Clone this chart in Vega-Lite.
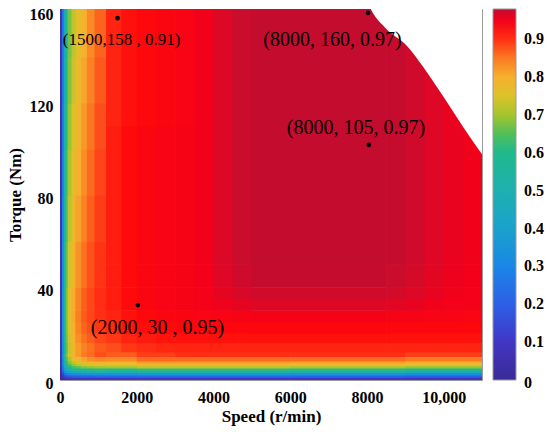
{
"$schema": "https://vega.github.io/schema/vega-lite/v6.json",
"width": 422, "height": 371,
"autosize": "none",
"padding": {"left": 60, "top": 9, "right": 68, "bottom": 52},
"background": "white",
"config": {
  "view": {"stroke": "#9a9a9a", "strokeWidth": 1},
  "axis": {"labelFont": "Liberation Serif", "labelFontWeight": "bold", "labelFontSize": 16, "labelColor": "black", "titleFont": "Liberation Serif", "titleFontWeight": "bold", "titleFontSize": 17, "titleColor": "black", "ticks": false, "domain": false, "grid": false}
},
"datasets": {
"grid": [
{"a":0,"b":50,"c":0,"d":1,"v":0.01},{"a":50,"b":100,"c":0,"d":1,"v":0.04},{"a":100,"b":150,"c":0,"d":1,"v":0.06},{"a":150,"b":200,"c":0,"d":1,"v":0.07},{"a":200,"b":300,"c":0,"d":1,"v":0.08},{"a":300,"b":400,"c":0,"d":1,"v":0.09},{"a":400,"b":550,"c":0,"d":1,"v":0.09},{"a":550,"b":700,"c":0,"d":1,"v":0.09},{"a":700,"b":900,"c":0,"d":1,"v":0.1},{"a":900,"b":1200,"c":0,"d":1,"v":0.1},
{"a":0,"b":50,"c":1,"d":2,"v":0.02},{"a":50,"b":100,"c":1,"d":2,"v":0.08},{"a":100,"b":150,"c":1,"d":2,"v":0.14},{"a":150,"b":200,"c":1,"d":2,"v":0.16},{"a":200,"b":300,"c":1,"d":2,"v":0.18},{"a":300,"b":400,"c":1,"d":2,"v":0.19},{"a":400,"b":550,"c":1,"d":2,"v":0.2},{"a":550,"b":700,"c":1,"d":2,"v":0.21},{"a":700,"b":900,"c":1,"d":2,"v":0.21},{"a":900,"b":1200,"c":1,"d":2,"v":0.22},
{"a":0,"b":50,"c":2,"d":3,"v":0.03},{"a":50,"b":100,"c":2,"d":3,"v":0.13},{"a":100,"b":150,"c":2,"d":3,"v":0.22},{"a":150,"b":200,"c":2,"d":3,"v":0.27},{"a":200,"b":300,"c":2,"d":3,"v":0.3},{"a":300,"b":400,"c":2,"d":3,"v":0.32},{"a":400,"b":550,"c":2,"d":3,"v":0.33},{"a":550,"b":700,"c":2,"d":3,"v":0.34},{"a":700,"b":900,"c":2,"d":3,"v":0.35},{"a":900,"b":1200,"c":2,"d":3,"v":0.35},
{"a":0,"b":50,"c":3,"d":4,"v":0.04},{"a":50,"b":100,"c":3,"d":4,"v":0.19},{"a":100,"b":150,"c":3,"d":4,"v":0.31},{"a":150,"b":200,"c":3,"d":4,"v":0.37},{"a":200,"b":300,"c":3,"d":4,"v":0.41},{"a":300,"b":400,"c":3,"d":4,"v":0.44},{"a":400,"b":550,"c":3,"d":4,"v":0.46},{"a":550,"b":700,"c":3,"d":4,"v":0.47},{"a":700,"b":900,"c":3,"d":4,"v":0.48},{"a":900,"b":1200,"c":3,"d":4,"v":0.49},
{"a":0,"b":50,"c":4,"d":5,"v":0.05},{"a":50,"b":100,"c":4,"d":5,"v":0.23},{"a":100,"b":150,"c":4,"d":5,"v":0.38},{"a":150,"b":200,"c":4,"d":5,"v":0.46},{"a":200,"b":300,"c":4,"d":5,"v":0.51},{"a":300,"b":400,"c":4,"d":5,"v":0.55},{"a":400,"b":550,"c":4,"d":5,"v":0.57},{"a":550,"b":700,"c":4,"d":5,"v":0.59},{"a":700,"b":900,"c":4,"d":5,"v":0.6},{"a":900,"b":1200,"c":4,"d":5,"v":0.61},
{"a":0,"b":50,"c":5,"d":6,"v":0.06},{"a":50,"b":100,"c":5,"d":6,"v":0.27},{"a":100,"b":150,"c":5,"d":6,"v":0.44},{"a":150,"b":200,"c":5,"d":6,"v":0.54},{"a":200,"b":300,"c":5,"d":6,"v":0.6},{"a":300,"b":400,"c":5,"d":6,"v":0.64},{"a":400,"b":550,"c":5,"d":6,"v":0.66},{"a":550,"b":700,"c":5,"d":6,"v":0.68},{"a":700,"b":900,"c":5,"d":6,"v":0.69},{"a":900,"b":1200,"c":5,"d":6,"v":0.7},
{"a":0,"b":50,"c":6,"d":7,"v":0.07},{"a":50,"b":100,"c":6,"d":7,"v":0.29},{"a":100,"b":150,"c":6,"d":7,"v":0.48},{"a":150,"b":200,"c":6,"d":7,"v":0.58},{"a":200,"b":300,"c":6,"d":7,"v":0.65},{"a":300,"b":400,"c":6,"d":7,"v":0.69},{"a":400,"b":550,"c":6,"d":7,"v":0.72},{"a":550,"b":700,"c":6,"d":7,"v":0.74},{"a":700,"b":900,"c":6,"d":7,"v":0.75},{"a":900,"b":1200,"c":6,"d":7,"v":0.76},
{"a":0,"b":50,"c":7,"d":8,"v":0.07},{"a":50,"b":100,"c":7,"d":8,"v":0.31},{"a":100,"b":150,"c":7,"d":8,"v":0.51},{"a":150,"b":200,"c":7,"d":8,"v":0.61},{"a":200,"b":300,"c":7,"d":8,"v":0.68},{"a":300,"b":400,"c":7,"d":8,"v":0.72},{"a":400,"b":550,"c":7,"d":8,"v":0.75},{"a":550,"b":700,"c":7,"d":8,"v":0.78},{"a":700,"b":900,"c":7,"d":8,"v":0.79},{"a":900,"b":1200,"c":7,"d":8,"v":0.8},
{"a":0,"b":50,"c":8,"d":10,"v":0.07},{"a":50,"b":100,"c":8,"d":10,"v":0.32},{"a":100,"b":150,"c":8,"d":10,"v":0.53},{"a":150,"b":200,"c":8,"d":10,"v":0.64},{"a":200,"b":300,"c":8,"d":10,"v":0.71},{"a":300,"b":400,"c":8,"d":10,"v":0.76},{"a":400,"b":550,"c":8,"d":10,"v":0.79},{"a":550,"b":700,"c":8,"d":10,"v":0.81},{"a":700,"b":900,"c":8,"d":10,"v":0.83},{"a":900,"b":1200,"c":8,"d":10,"v":0.84},
{"a":0,"b":50,"c":10,"d":12,"v":0.08},{"a":50,"b":100,"c":10,"d":12,"v":0.33},{"a":100,"b":150,"c":10,"d":12,"v":0.55},{"a":150,"b":200,"c":10,"d":12,"v":0.67},{"a":200,"b":300,"c":10,"d":12,"v":0.74},{"a":300,"b":400,"c":10,"d":12,"v":0.79},{"a":400,"b":550,"c":10,"d":12,"v":0.82},{"a":550,"b":700,"c":10,"d":12,"v":0.85},{"a":700,"b":900,"c":10,"d":12,"v":0.86},{"a":900,"b":1200,"c":10,"d":12,"v":0.88},

{"a":1200,"b":2000,"c":0,"d":1,"v":0.1},{"a":1200,"b":2000,"c":1,"d":2,"v":0.21},{"a":1200,"b":2000,"c":2,"d":3,"v":0.35},{"a":1200,"b":2000,"c":3,"d":4,"v":0.485},{"a":1200,"b":2000,"c":4,"d":5,"v":0.6},{"a":1200,"b":2000,"c":5,"d":6,"v":0.7},{"a":1200,"b":2000,"c":6,"d":7,"v":0.755},{"a":1200,"b":2000,"c":7,"d":8,"v":0.795},{"a":1200,"b":2000,"c":8,"d":10,"v":0.835},{"a":1200,"b":2000,"c":10,"d":12,"v":0.87},
{"a":2000,"b":3000,"c":0,"d":1,"v":0.1},{"a":2000,"b":3000,"c":1,"d":2,"v":0.22},{"a":2000,"b":3000,"c":2,"d":3,"v":0.36},{"a":2000,"b":3000,"c":3,"d":4,"v":0.5},{"a":2000,"b":3000,"c":4,"d":5,"v":0.62},{"a":2000,"b":3000,"c":5,"d":6,"v":0.72},{"a":2000,"b":3000,"c":6,"d":7,"v":0.78},{"a":2000,"b":3000,"c":7,"d":8,"v":0.82},{"a":2000,"b":3000,"c":8,"d":10,"v":0.86},{"a":2000,"b":3000,"c":10,"d":12,"v":0.89},
{"a":3000,"b":6000,"c":0,"d":1,"v":0.1},{"a":3000,"b":6000,"c":1,"d":2,"v":0.22},{"a":3000,"b":6000,"c":2,"d":3,"v":0.36},{"a":3000,"b":6000,"c":3,"d":4,"v":0.5},{"a":3000,"b":6000,"c":4,"d":5,"v":0.62},{"a":3000,"b":6000,"c":5,"d":6,"v":0.72},{"a":3000,"b":6000,"c":6,"d":7,"v":0.78},{"a":3000,"b":6000,"c":7,"d":8,"v":0.82},{"a":3000,"b":6000,"c":8,"d":10,"v":0.86},{"a":3000,"b":6000,"c":10,"d":12,"v":0.9},
{"a":6000,"b":9000,"c":0,"d":1,"v":0.1},{"a":6000,"b":9000,"c":1,"d":2,"v":0.21},{"a":6000,"b":9000,"c":2,"d":3,"v":0.35},{"a":6000,"b":9000,"c":3,"d":4,"v":0.49},{"a":6000,"b":9000,"c":4,"d":5,"v":0.61},{"a":6000,"b":9000,"c":5,"d":6,"v":0.71},{"a":6000,"b":9000,"c":6,"d":7,"v":0.775},{"a":6000,"b":9000,"c":7,"d":8,"v":0.815},{"a":6000,"b":9000,"c":8,"d":10,"v":0.86},{"a":6000,"b":9000,"c":10,"d":12,"v":0.9},
{"a":9000,"b":11000,"c":0,"d":1,"v":0.09},{"a":9000,"b":11000,"c":1,"d":2,"v":0.2},{"a":9000,"b":11000,"c":2,"d":3,"v":0.33},{"a":9000,"b":11000,"c":3,"d":4,"v":0.47},{"a":9000,"b":11000,"c":4,"d":5,"v":0.59},{"a":9000,"b":11000,"c":5,"d":6,"v":0.69},{"a":9000,"b":11000,"c":6,"d":7,"v":0.765},{"a":9000,"b":11000,"c":7,"d":8,"v":0.805},{"a":9000,"b":11000,"c":8,"d":10,"v":0.85},{"a":9000,"b":11000,"c":10,"d":12,"v":0.89},

{"a":0,"b":50,"c":12,"d":16,"v":0.077},{"a":50,"b":100,"c":12,"d":16,"v":0.327},{"a":100,"b":150,"c":12,"d":16,"v":0.539},{"a":150,"b":200,"c":12,"d":16,"v":0.655},{"a":200,"b":300,"c":12,"d":16,"v":0.732},{"a":300,"b":400,"c":12,"d":16,"v":0.78},{"a":400,"b":550,"c":12,"d":16,"v":0.819},{"a":550,"b":700,"c":12,"d":16,"v":0.843},{"a":700,"b":900,"c":12,"d":16,"v":0.857},{"a":900,"b":1200,"c":12,"d":16,"v":0.872},
{"a":0,"b":50,"c":16,"d":20,"v":0.078},{"a":50,"b":100,"c":16,"d":20,"v":0.333},{"a":100,"b":150,"c":16,"d":20,"v":0.548},{"a":150,"b":200,"c":16,"d":20,"v":0.666},{"a":200,"b":300,"c":16,"d":20,"v":0.744},{"a":300,"b":400,"c":16,"d":20,"v":0.793},{"a":400,"b":550,"c":16,"d":20,"v":0.832},{"a":550,"b":700,"c":16,"d":20,"v":0.857},{"a":700,"b":900,"c":16,"d":20,"v":0.871},{"a":900,"b":1200,"c":16,"d":20,"v":0.886},
{"a":0,"b":50,"c":20,"d":25,"v":0.079},{"a":50,"b":100,"c":20,"d":25,"v":0.336},{"a":100,"b":150,"c":20,"d":25,"v":0.554},{"a":150,"b":200,"c":20,"d":25,"v":0.673},{"a":200,"b":300,"c":20,"d":25,"v":0.752},{"a":300,"b":400,"c":20,"d":25,"v":0.801},{"a":400,"b":550,"c":20,"d":25,"v":0.841},{"a":550,"b":700,"c":20,"d":25,"v":0.865},{"a":700,"b":900,"c":20,"d":25,"v":0.88},{"a":900,"b":1200,"c":20,"d":25,"v":0.895},
{"a":0,"b":50,"c":25,"d":30,"v":0.08},{"a":50,"b":100,"c":25,"d":30,"v":0.338},{"a":100,"b":150,"c":25,"d":30,"v":0.557},{"a":150,"b":200,"c":25,"d":30,"v":0.677},{"a":200,"b":300,"c":25,"d":30,"v":0.756},{"a":300,"b":400,"c":25,"d":30,"v":0.806},{"a":400,"b":550,"c":25,"d":30,"v":0.846},{"a":550,"b":700,"c":25,"d":30,"v":0.871},{"a":700,"b":900,"c":25,"d":30,"v":0.886},{"a":900,"b":1200,"c":25,"d":30,"v":0.9},
{"a":0,"b":50,"c":30,"d":40,"v":0.078},{"a":50,"b":100,"c":30,"d":40,"v":0.335},{"a":100,"b":150,"c":30,"d":40,"v":0.555},{"a":150,"b":200,"c":30,"d":40,"v":0.675},{"a":200,"b":300,"c":30,"d":40,"v":0.755},{"a":300,"b":400,"c":30,"d":40,"v":0.803},{"a":400,"b":550,"c":30,"d":40,"v":0.842},{"a":550,"b":700,"c":30,"d":40,"v":0.868},{"a":700,"b":900,"c":30,"d":40,"v":0.885},{"a":900,"b":1200,"c":30,"d":40,"v":0.902},
{"a":0,"b":50,"c":40,"d":60,"v":0.07},{"a":50,"b":100,"c":40,"d":60,"v":0.32},{"a":100,"b":150,"c":40,"d":60,"v":0.54},{"a":150,"b":200,"c":40,"d":60,"v":0.66},{"a":200,"b":300,"c":40,"d":60,"v":0.74},{"a":300,"b":400,"c":40,"d":60,"v":0.788},{"a":400,"b":550,"c":40,"d":60,"v":0.828},{"a":550,"b":700,"c":40,"d":60,"v":0.856},{"a":700,"b":900,"c":40,"d":60,"v":0.878},{"a":900,"b":1200,"c":40,"d":60,"v":0.897},
{"a":0,"b":50,"c":60,"d":80,"v":0.065},{"a":50,"b":100,"c":60,"d":80,"v":0.3},{"a":100,"b":150,"c":60,"d":80,"v":0.52},{"a":150,"b":200,"c":60,"d":80,"v":0.64},{"a":200,"b":300,"c":60,"d":80,"v":0.725},{"a":300,"b":400,"c":60,"d":80,"v":0.772},{"a":400,"b":550,"c":60,"d":80,"v":0.812},{"a":550,"b":700,"c":60,"d":80,"v":0.843},{"a":700,"b":900,"c":60,"d":80,"v":0.868},{"a":900,"b":1200,"c":60,"d":80,"v":0.891},
{"a":0,"b":50,"c":80,"d":100,"v":0.06},{"a":50,"b":100,"c":80,"d":100,"v":0.28},{"a":100,"b":150,"c":80,"d":100,"v":0.5},{"a":150,"b":200,"c":80,"d":100,"v":0.625},{"a":200,"b":300,"c":80,"d":100,"v":0.71},{"a":300,"b":400,"c":80,"d":100,"v":0.76},{"a":400,"b":550,"c":80,"d":100,"v":0.8},{"a":550,"b":700,"c":80,"d":100,"v":0.832},{"a":700,"b":900,"c":80,"d":100,"v":0.861},{"a":900,"b":1200,"c":80,"d":100,"v":0.886},
{"a":0,"b":50,"c":100,"d":120,"v":0.058},{"a":50,"b":100,"c":100,"d":120,"v":0.265},{"a":100,"b":150,"c":100,"d":120,"v":0.475},{"a":150,"b":200,"c":100,"d":120,"v":0.61},{"a":200,"b":300,"c":100,"d":120,"v":0.695},{"a":300,"b":400,"c":100,"d":120,"v":0.748},{"a":400,"b":550,"c":100,"d":120,"v":0.788},{"a":550,"b":700,"c":100,"d":120,"v":0.822},{"a":700,"b":900,"c":100,"d":120,"v":0.853},{"a":900,"b":1200,"c":100,"d":120,"v":0.88},
{"a":0,"b":50,"c":120,"d":140,"v":0.058},{"a":50,"b":100,"c":120,"d":140,"v":0.255},{"a":100,"b":150,"c":120,"d":140,"v":0.455},{"a":150,"b":200,"c":120,"d":140,"v":0.6},{"a":200,"b":300,"c":120,"d":140,"v":0.682},{"a":300,"b":400,"c":120,"d":140,"v":0.735},{"a":400,"b":550,"c":120,"d":140,"v":0.776},{"a":550,"b":700,"c":120,"d":140,"v":0.81},{"a":700,"b":900,"c":120,"d":140,"v":0.843},{"a":900,"b":1200,"c":120,"d":140,"v":0.872},
{"a":0,"b":50,"c":140,"d":161,"v":0.06},{"a":50,"b":100,"c":140,"d":161,"v":0.25},{"a":100,"b":150,"c":140,"d":161,"v":0.445},{"a":150,"b":200,"c":140,"d":161,"v":0.595},{"a":200,"b":300,"c":140,"d":161,"v":0.675},{"a":300,"b":400,"c":140,"d":161,"v":0.725},{"a":400,"b":550,"c":140,"d":161,"v":0.765},{"a":550,"b":700,"c":140,"d":161,"v":0.8},{"a":700,"b":900,"c":140,"d":161,"v":0.835},{"a":900,"b":1200,"c":140,"d":161,"v":0.865},

{"a":1200,"b":1600,"c":12,"d":16,"v":0.88},{"a":1600,"b":2000,"c":12,"d":16,"v":0.895},{"a":2000,"b":2500,"c":12,"d":16,"v":0.902},{"a":2500,"b":3000,"c":12,"d":16,"v":0.907},{"a":3000,"b":3500,"c":12,"d":16,"v":0.91},{"a":3500,"b":4000,"c":12,"d":16,"v":0.91},{"a":4000,"b":4500,"c":12,"d":16,"v":0.91},{"a":4500,"b":5000,"c":12,"d":16,"v":0.91},{"a":5000,"b":8500,"c":12,"d":16,"v":0.91},{"a":8500,"b":9000,"c":12,"d":16,"v":0.91},{"a":9000,"b":9500,"c":12,"d":16,"v":0.91},{"a":9500,"b":10000,"c":12,"d":16,"v":0.91},{"a":10000,"b":10500,"c":12,"d":16,"v":0.91},{"a":10500,"b":11000,"c":12,"d":16,"v":0.91},
{"a":1200,"b":1600,"c":16,"d":20,"v":0.895},{"a":1600,"b":2000,"c":16,"d":20,"v":0.91},{"a":2000,"b":2500,"c":16,"d":20,"v":0.917},{"a":2500,"b":3000,"c":16,"d":20,"v":0.922},{"a":3000,"b":3500,"c":16,"d":20,"v":0.925},{"a":3500,"b":4000,"c":16,"d":20,"v":0.925},{"a":4000,"b":4500,"c":16,"d":20,"v":0.925},{"a":4500,"b":5000,"c":16,"d":20,"v":0.925},{"a":5000,"b":8500,"c":16,"d":20,"v":0.925},{"a":8500,"b":9000,"c":16,"d":20,"v":0.925},{"a":9000,"b":9500,"c":16,"d":20,"v":0.925},{"a":9500,"b":10000,"c":16,"d":20,"v":0.925},{"a":10000,"b":10500,"c":16,"d":20,"v":0.925},{"a":10500,"b":11000,"c":16,"d":20,"v":0.925},
{"a":1200,"b":1600,"c":20,"d":25,"v":0.905},{"a":1600,"b":2000,"c":20,"d":25,"v":0.92},{"a":2000,"b":2500,"c":20,"d":25,"v":0.927},{"a":2500,"b":3000,"c":20,"d":25,"v":0.932},{"a":3000,"b":3500,"c":20,"d":25,"v":0.935},{"a":3500,"b":4000,"c":20,"d":25,"v":0.935},{"a":4000,"b":4500,"c":20,"d":25,"v":0.935},{"a":4500,"b":5000,"c":20,"d":25,"v":0.935},{"a":5000,"b":8500,"c":20,"d":25,"v":0.935},{"a":8500,"b":9000,"c":20,"d":25,"v":0.935},{"a":9000,"b":9500,"c":20,"d":25,"v":0.935},{"a":9500,"b":10000,"c":20,"d":25,"v":0.935},{"a":10000,"b":10500,"c":20,"d":25,"v":0.935},{"a":10500,"b":11000,"c":20,"d":25,"v":0.935},
{"a":1200,"b":1600,"c":25,"d":30,"v":0.91},{"a":1600,"b":2000,"c":25,"d":30,"v":0.925},{"a":2000,"b":2500,"c":25,"d":30,"v":0.932},{"a":2500,"b":3000,"c":25,"d":30,"v":0.937},{"a":3000,"b":3500,"c":25,"d":30,"v":0.94},{"a":3500,"b":4000,"c":25,"d":30,"v":0.941},{"a":4000,"b":4500,"c":25,"d":30,"v":0.943},{"a":4500,"b":5000,"c":25,"d":30,"v":0.945},{"a":5000,"b":8500,"c":25,"d":30,"v":0.946},{"a":8500,"b":9000,"c":25,"d":30,"v":0.945},{"a":9000,"b":9500,"c":25,"d":30,"v":0.944},{"a":9500,"b":10000,"c":25,"d":30,"v":0.943},{"a":10000,"b":10500,"c":25,"d":30,"v":0.942},{"a":10500,"b":11000,"c":25,"d":30,"v":0.941},
{"a":1200,"b":1600,"c":30,"d":35,"v":0.915},{"a":1600,"b":2000,"c":30,"d":35,"v":0.93},{"a":2000,"b":2500,"c":30,"d":35,"v":0.937},{"a":2500,"b":3000,"c":30,"d":35,"v":0.942},{"a":3000,"b":3500,"c":30,"d":35,"v":0.945},{"a":3500,"b":4000,"c":30,"d":35,"v":0.948},{"a":4000,"b":4500,"c":30,"d":35,"v":0.952},{"a":4500,"b":5000,"c":30,"d":35,"v":0.956},{"a":5000,"b":8500,"c":30,"d":35,"v":0.959},{"a":8500,"b":9000,"c":30,"d":35,"v":0.957},{"a":9000,"b":9500,"c":30,"d":35,"v":0.955},{"a":9500,"b":10000,"c":30,"d":35,"v":0.951},{"a":10000,"b":10500,"c":30,"d":35,"v":0.949},{"a":10500,"b":11000,"c":30,"d":35,"v":0.948},
{"a":1200,"b":1600,"c":35,"d":40,"v":0.915},{"a":1600,"b":2000,"c":35,"d":40,"v":0.93},{"a":2000,"b":2500,"c":35,"d":40,"v":0.937},{"a":2500,"b":3000,"c":35,"d":40,"v":0.942},{"a":3000,"b":3500,"c":35,"d":40,"v":0.945},{"a":3500,"b":4000,"c":35,"d":40,"v":0.949},{"a":4000,"b":4500,"c":35,"d":40,"v":0.956},{"a":4500,"b":5000,"c":35,"d":40,"v":0.962},{"a":5000,"b":8500,"c":35,"d":40,"v":0.966},{"a":8500,"b":9000,"c":35,"d":40,"v":0.964},{"a":9000,"b":9500,"c":35,"d":40,"v":0.96},{"a":9500,"b":10000,"c":35,"d":40,"v":0.955},{"a":10000,"b":10500,"c":35,"d":40,"v":0.951},{"a":10500,"b":11000,"c":35,"d":40,"v":0.949},
{"a":1200,"b":1600,"c":40,"d":50,"v":0.915},{"a":1600,"b":2000,"c":40,"d":50,"v":0.93},{"a":2000,"b":2500,"c":40,"d":50,"v":0.937},{"a":2500,"b":3000,"c":40,"d":50,"v":0.942},{"a":3000,"b":3500,"c":40,"d":50,"v":0.945},{"a":3500,"b":4000,"c":40,"d":50,"v":0.95},{"a":4000,"b":4500,"c":40,"d":50,"v":0.959},{"a":4500,"b":5000,"c":40,"d":50,"v":0.967},{"a":5000,"b":8500,"c":40,"d":50,"v":0.972},{"a":8500,"b":9000,"c":40,"d":50,"v":0.969},{"a":9000,"b":9500,"c":40,"d":50,"v":0.964},{"a":9500,"b":10000,"c":40,"d":50,"v":0.957},{"a":10000,"b":10500,"c":40,"d":50,"v":0.953},{"a":10500,"b":11000,"c":40,"d":50,"v":0.95},
{"a":1200,"b":1600,"c":50,"d":110,"v":0.915},{"a":1600,"b":2000,"c":50,"d":110,"v":0.93},{"a":2000,"b":2500,"c":50,"d":110,"v":0.937},{"a":2500,"b":3000,"c":50,"d":110,"v":0.942},{"a":3000,"b":3500,"c":50,"d":110,"v":0.945},{"a":3500,"b":4000,"c":50,"d":110,"v":0.951},{"a":4000,"b":4500,"c":50,"d":110,"v":0.96},{"a":4500,"b":5000,"c":50,"d":110,"v":0.969},{"a":5000,"b":8500,"c":50,"d":110,"v":0.975},{"a":8500,"b":9000,"c":50,"d":110,"v":0.972},{"a":9000,"b":9500,"c":50,"d":110,"v":0.966},{"a":9500,"b":10000,"c":50,"d":110,"v":0.959},{"a":10000,"b":10500,"c":50,"d":110,"v":0.954},{"a":10500,"b":11000,"c":50,"d":110,"v":0.951},
{"a":1200,"b":1600,"c":110,"d":161,"v":0.91},{"a":1600,"b":2000,"c":110,"d":161,"v":0.925},{"a":2000,"b":2500,"c":110,"d":161,"v":0.933},{"a":2500,"b":3000,"c":110,"d":161,"v":0.939},{"a":3000,"b":3500,"c":110,"d":161,"v":0.942},{"a":3500,"b":4000,"c":110,"d":161,"v":0.951},{"a":4000,"b":4500,"c":110,"d":161,"v":0.96},{"a":4500,"b":5000,"c":110,"d":161,"v":0.969},{"a":5000,"b":8500,"c":110,"d":161,"v":0.975},{"a":8500,"b":9000,"c":110,"d":161,"v":0.972},{"a":9000,"b":9500,"c":110,"d":161,"v":0.966},{"a":9500,"b":10000,"c":110,"d":161,"v":0.959},{"a":10000,"b":10500,"c":110,"d":161,"v":0.954}
],
"env": [
{"a":8100,"c":161},{"a":8150,"c":159.5},{"a":8470,"c":153},{"a":9070,"c":144.5},{"a":9460,"c":136},{"a":9830,"c":127},{"a":10170,"c":118.5},{"a":10500,"c":110},{"a":10870,"c":101},{"a":11000,"c":98}
],
"pts": [
{"a":1500,"c":157},{"a":8030,"c":159.3},{"a":8050,"c":102},{"a":2030,"c":32.5}
],
"labels1": [
{"a":1603,"c":147.5,"label":"(1500,158 , 0.91)"}
],
"labels2": [
{"a":7103,"c":147.5,"label":"(8000, 160, 0.97)"},
{"a":7716,"c":109.4,"label":"(8000, 105, 0.97)"},
{"a":2541,"c":22.6,"label":"(2000, 30 , 0.95)"}
]
},
"layer": [
{
 "data": {"name": "grid"},
 "mark": {"type": "rect", "clip": true, "x2Offset": 0.7, "y2Offset": -0.7},
 "encoding": {
  "x": {"field": "a", "type": "quantitative", "scale": {"domain": [0, 11000], "nice": false, "zero": false},
        "axis": {"title": "Speed (r/min)", "values": [0,2000,4000,6000,8000,10000], "labelExpr": "datum.value >= 10000 ? '10,000' : '' + datum.value", "labelPadding": 9, "titlePadding": 3, "labelFlush": false}},
  "x2": {"field": "b"},
  "y": {"field": "c", "type": "quantitative", "scale": {"domain": [0, 161], "nice": false, "zero": false},
        "axis": {"title": "Torque (Nm)", "values": [0,40,80,120,160], "labelPadding": 7, "labelOffset": 3, "titlePadding": 5, "labelFlush": false}},
  "y2": {"field": "d"},
  "color": {"field": "v", "type": "quantitative",
    "scale": {"domain": [0,0.1,0.2,0.3,0.4,0.5,0.6,0.65,0.7,0.75,0.8,0.85,0.9,0.93,0.95,0.96,0.97,0.98],
              "range": ["#3a2a96","#4136c4","#2d5fe6","#1a86e6","#1aa1cc","#1db0b0","#1fb98c","#50bf5a","#a4c52c","#dcc22a","#f6b02e","#fb7a22","#ff2f14","#fe0a0a","#f4001a","#dc0826","#c80c2e","#c00c30"],
              "interpolate": "rgb"},
    "legend": {"type": "gradient", "title": null, "orient": "right", "offset": 11, "direction": "vertical", "gradientLength": 371, "gradientThickness": 23,
               "values": [0,0.1,0.2,0.3,0.4,0.5,0.6,0.7,0.8,0.9],
               "labelExpr": "datum.value == 0 ? '0' : format(datum.value, '.1f')",
               "labelFont": "Liberation Serif", "labelFontSize": 16, "labelFontWeight": "bold", "labelColor": "black",
               "labelFlush": false, "labelOverlap": false,
               "labelOffset": 8, "gradientStrokeColor": "#999999", "gradientStrokeWidth": 1, "padding": 0,
               "encode": {"labels": {"update": {"baseline": {"value": "middle"}, "dy": {"signal": "datum.value == 0 ? 3 : 0"}}}}}}
 }
},
{
 "data": {"name": "env"},
 "mark": {"type": "area", "fill": "white", "clip": true, "interpolate": "monotone"},
 "encoding": {
  "x": {"field": "a", "type": "quantitative"},
  "y": {"field": "c", "type": "quantitative"},
  "y2": {"datum": 161}
 }
},
{
 "data": {"name": "pts"},
 "mark": {"type": "point", "filled": true, "color": "black", "size": 22, "opacity": 1},
 "encoding": {
  "x": {"field": "a", "type": "quantitative"},
  "y": {"field": "c", "type": "quantitative"}
 }
},
{
 "data": {"name": "labels1"},
 "mark": {"type": "text", "font": "Liberation Serif", "fontSize": 17, "color": "black"},
 "encoding": {
  "x": {"field": "a", "type": "quantitative"},
  "y": {"field": "c", "type": "quantitative"},
  "text": {"field": "label"}
 }
},
{
 "data": {"name": "labels2"},
 "mark": {"type": "text", "font": "Liberation Serif", "fontSize": 20, "color": "black"},
 "encoding": {
  "x": {"field": "a", "type": "quantitative"},
  "y": {"field": "c", "type": "quantitative"},
  "text": {"field": "label"}
 }
}
]
}
